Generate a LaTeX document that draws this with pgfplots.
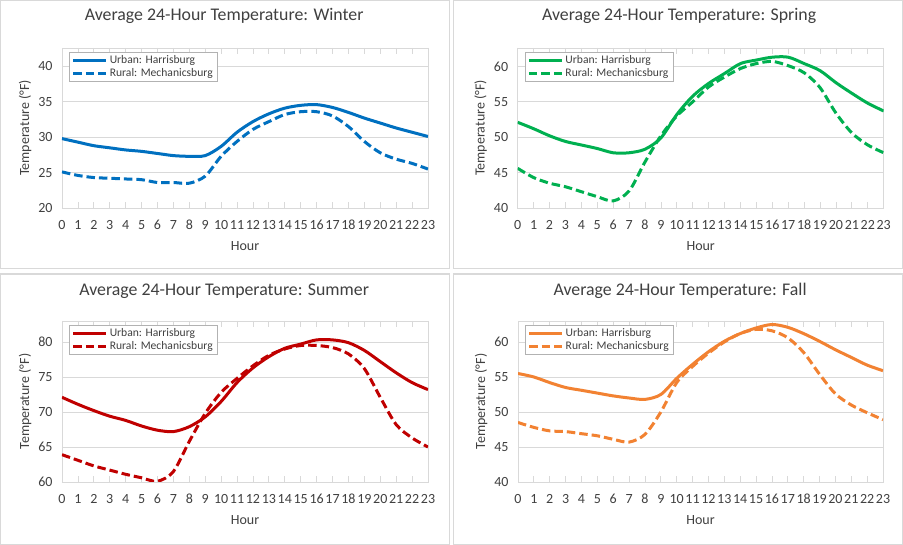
\documentclass[border=0pt]{standalone}
\usepackage{fontspec}
\setmainfont{Carlito}
\usepackage{pgfplots}
\pgfplotsset{compat=1.18}
\definecolor{wint}{RGB}{0,112,192}
\definecolor{spr}{RGB}{0,176,80}
\definecolor{summ}{RGB}{192,0,0}
\definecolor{fallc}{RGB}{242,130,50}
\definecolor{txt}{RGB}{64,64,64}
\definecolor{grd}{RGB}{217,217,217}
\definecolor{frm}{RGB}{217,217,217}
\pgfplotsset{
 panel/.style={
  scale only axis, width=366pt, height=160pt,
  xmin=0, xmax=23, xtick={0,...,23},
  ymajorgrids, grid style={grd, line width=0.8pt},
  axis line style={grd, line width=0.8pt},
  tick align=inside, major tick length=6pt,
  xtick style={grd, line width=0.8pt},
  ytick style={draw=none},
  tick label style={font=\fontsize{14}{16}\selectfont, text=txt},
  /pgf/number format/assume math mode=true,
  xticklabel style={anchor=base, yshift=-22pt},
  yticklabel style={xshift=-6pt},
  label style={font=\fontsize{14}{16}\selectfont, text=txt},
  xlabel={Hour}, ylabel={Temperature (°F)},
  xlabel style={at={(axis description cs:0.5,-0.266)}, anchor=base},
  ylabel style={at={(axis description cs:-0.101,0.5)}, anchor=center},
  title style={font=\fontsize{17.8}{20}\selectfont, text=txt, anchor=base},
  legend style={at={(axis description cs:0.019,0.975)}, anchor=north west, draw=gray!60, line width=0.6pt, font=\fontsize{11.6}{13}\selectfont, text=txt, inner xsep=2.5pt, inner ysep=1.5pt, row sep=-1pt, cells={anchor=west}},
  legend image code/.code={\draw[##1] (0pt,0pt) -- (33pt,0pt);},
  every axis plot/.append style={line width=3pt, smooth, tension=0.5},
 },
 rural/.style={dash pattern=on 8.5pt off 4pt},
}
\begin{document}
\begin{tikzpicture}[x=1pt,y=1pt]
\useasboundingbox (0,0) rectangle (903,545);
\fill[white] (0,0) rectangle (903,545);
\draw[frm, line width=1.3pt] (0.65,276.35) rectangle (449.35,544.35);
\draw[frm, line width=1.3pt] (453.65,276.35) rectangle (902.35,544.35);
\draw[frm, line width=1.3pt] (0.65,0.65) rectangle (449.35,271);
\draw[frm, line width=1.3pt] (453.65,0.65) rectangle (902.35,271);

% Winter
\begin{axis}[panel, at={(62pt,337pt)}, anchor=south west,
  ymin=20, ymax=42.6, ytick={20,25,30,35,40},
  title={Average 24-Hour Temperature: Winter},
  title style={at={(axis description cs:0.443,1.133)}}]
\addplot[wint] coordinates {(0,29.8)(1,29.3)(2,28.8)(3,28.5)(4,28.2)(5,28.0)(6,27.7)(7,27.4)(8,27.3)(9,27.4)(10,28.7)(11,30.7)(12,32.2)(13,33.3)(14,34.1)(15,34.5)(16,34.6)(17,34.2)(18,33.5)(19,32.7)(20,32.0)(21,31.3)(22,30.7)(23,30.1)};
\addlegendentry{Urban: Harrisburg}
\addplot[wint, rural] coordinates {(0,25.1)(1,24.6)(2,24.3)(3,24.2)(4,24.1)(5,24.0)(6,23.6)(7,23.6)(8,23.5)(9,24.5)(10,27.3)(11,29.4)(12,31.1)(13,32.2)(14,33.2)(15,33.6)(16,33.6)(17,33.0)(18,31.5)(19,29.4)(20,27.8)(21,26.9)(22,26.3)(23,25.5)};
\addlegendentry{Rural: Mechanicsburg}
\end{axis}

% Spring
\begin{axis}[panel, at={(517.7pt,337pt)}, anchor=south west,
  ymin=40, ymax=62.6, ytick={40,45,50,55,60},
  title={Average 24-Hour Temperature: Spring},
  title style={at={(axis description cs:0.441,1.133)}}]
\addplot[spr] coordinates {(0,52.1)(1,51.2)(2,50.2)(3,49.4)(4,48.9)(5,48.4)(6,47.8)(7,47.8)(8,48.3)(9,49.9)(10,53.2)(11,55.8)(12,57.6)(13,59.0)(14,60.4)(15,60.9)(16,61.3)(17,61.3)(18,60.4)(19,59.4)(20,57.7)(21,56.2)(22,54.8)(23,53.7)};
\addlegendentry{Urban: Harrisburg}
\addplot[spr, rural] coordinates {(0,45.6)(1,44.3)(2,43.5)(3,43.0)(4,42.3)(5,41.6)(6,41.0)(7,42.4)(8,46.5)(9,50.2)(10,53.0)(11,55.0)(12,57.1)(13,58.5)(14,59.7)(15,60.4)(16,60.7)(17,60.1)(18,59.1)(19,57.0)(20,53.4)(21,50.6)(22,48.9)(23,47.8)};
\addlegendentry{Rural: Mechanicsburg}
\end{axis}

% Summer
\begin{axis}[panel, at={(62pt,63pt)}, anchor=south west, height=161pt,
  ymin=60, ymax=83, ytick={60,65,70,75,80},
  title={Average 24-Hour Temperature: Summer},
  title style={at={(axis description cs:0.443,1.12)}}]
\addplot[summ] coordinates {(0,72.1)(1,71.1)(2,70.2)(3,69.4)(4,68.8)(5,68.0)(6,67.4)(7,67.2)(8,67.9)(9,69.3)(10,71.5)(11,74.2)(12,76.3)(13,77.9)(14,79.1)(15,79.7)(16,80.3)(17,80.3)(18,79.9)(19,78.8)(20,77.2)(21,75.6)(22,74.2)(23,73.2)};
\addlegendentry{Urban: Harrisburg}
\addplot[summ, rural] coordinates {(0,63.9)(1,63.1)(2,62.3)(3,61.7)(4,61.1)(5,60.6)(6,60.1)(7,61.5)(8,65.8)(9,69.8)(10,72.8)(11,74.8)(12,76.6)(13,78.1)(14,79.0)(15,79.5)(16,79.5)(17,79.2)(18,78.3)(19,76.2)(20,72.1)(21,68.2)(22,66.3)(23,65.0)};
\addlegendentry{Rural: Mechanicsburg}
\end{axis}

% Fall
\begin{axis}[panel, at={(518pt,63pt)}, anchor=south west, height=161pt, width=365pt,
  ymin=40, ymax=63, ytick={40,45,50,55,60},
  title={Average 24-Hour Temperature: Fall},
  title style={at={(axis description cs:0.444,1.12)}}]
\addplot[fallc] coordinates {(0,55.5)(1,55.0)(2,54.2)(3,53.5)(4,53.1)(5,52.7)(6,52.3)(7,52.0)(8,51.8)(9,52.5)(10,54.8)(11,56.8)(12,58.6)(13,60.1)(14,61.2)(15,62.0)(16,62.5)(17,62.1)(18,61.2)(19,60.1)(20,58.9)(21,57.8)(22,56.7)(23,55.9)};
\addlegendentry{Urban: Harrisburg}
\addplot[fallc, rural] coordinates {(0,48.5)(1,47.8)(2,47.3)(3,47.2)(4,46.9)(5,46.6)(6,46.1)(7,45.7)(8,46.8)(9,50.0)(10,54.2)(11,56.5)(12,58.4)(13,60.0)(14,61.2)(15,61.8)(16,61.6)(17,60.6)(18,58.5)(19,55.4)(20,52.6)(21,51.0)(22,49.9)(23,48.9)};
\addlegendentry{Rural: Mechanicsburg}
\end{axis}
\end{tikzpicture}
\end{document}
